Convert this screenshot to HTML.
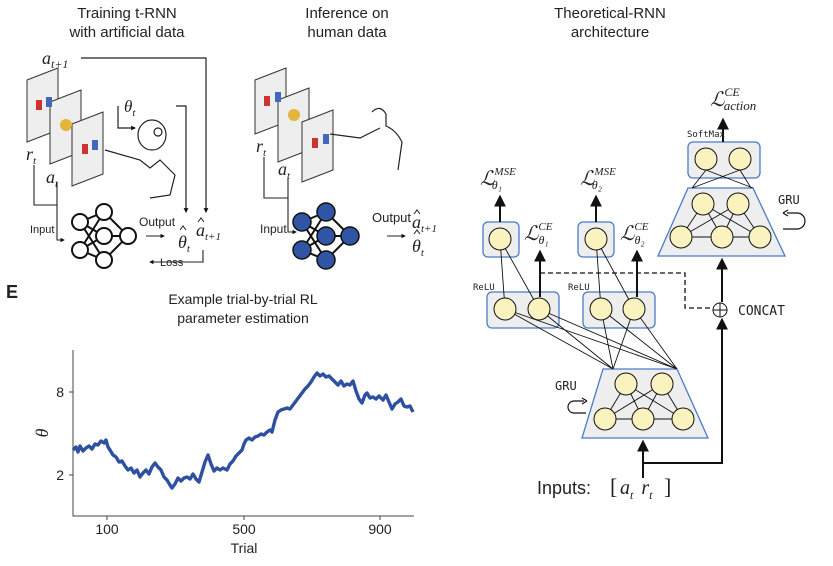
<!DOCTYPE html>
<html><head><meta charset="utf-8"><style>
body{margin:0;background:#fff}
svg{display:block}
text{font-family:"Liberation Sans","DejaVu Sans",sans-serif;fill:#222}
.m{font-family:"Liberation Serif",serif;font-style:italic}
.mono{font-family:"DejaVu Sans Mono","Liberation Mono",monospace}
</style></head><body>
<svg width="833" height="566" viewBox="0 0 833 566">
<defs>
<marker id="ah" viewBox="0 0 10 10" refX="8" refY="5" markerWidth="6" markerHeight="6" orient="auto"><path d="M0,0L10,5L0,10z" fill="#111"/></marker>
<marker id="as" viewBox="0 0 10 10" refX="8" refY="5" markerWidth="4" markerHeight="4" orient="auto"><path d="M0,0L10,5L0,10z" fill="#111"/></marker>
</defs>
<text x="127" y="18" font-size="15" text-anchor="middle">Training t-RNN</text>
<text x="127" y="37" font-size="15" text-anchor="middle">with artificial data</text>
<text x="347" y="18" font-size="15" text-anchor="middle">Inference on</text>
<text x="347" y="37" font-size="15" text-anchor="middle">human data</text>
<text x="610" y="18" font-size="15" text-anchor="middle">Theoretical-RNN</text>
<text x="610" y="37" font-size="15" text-anchor="middle">architecture</text>

<g stroke="#333" stroke-width="1" fill="#eee">
<polygon points="27,80 58,68 58,130 27,142"/>
<polygon points="50,102 81,90 81,152 50,164"/>
<polygon points="72,124 103,112 103,174 72,186"/>
<polygon points="255,80 286,68 286,122 255,134"/>
<polygon points="278,100 309,88 309,150 278,162"/>
<polygon points="302,122 333,110 333,170 302,182"/>
</g>
<g stroke="none">
<rect x="36" y="100" width="6" height="10" fill="#c33"/><rect x="46" y="97" width="6" height="10" fill="#46b"/>
<rect x="82" y="144" width="6" height="10" fill="#c33"/><rect x="92" y="140" width="6" height="10" fill="#46b"/>
<circle cx="66" cy="125" r="6" fill="#e3b53a"/>
<rect x="264" y="96" width="6" height="10" fill="#c33"/><rect x="275" y="92" width="6" height="10" fill="#46b"/>
<rect x="312" y="138" width="6" height="10" fill="#c33"/><rect x="323" y="134" width="6" height="10" fill="#46b"/>
<circle cx="294" cy="115" r="6" fill="#e3b53a"/>
</g>
<g fill="none" stroke="#222" stroke-width="1.2">
<ellipse cx="152" cy="135" rx="14" ry="15"/><circle cx="158" cy="132" r="4"/>
<path d="M105,150 L140,160 L150,168 L160,160 L175,175 L170,195 L150,198"/>
<path d="M118,106 L118,128 L135,128" marker-end="url(#as)"/>
<path d="M176,106 L186,106 L186,212" marker-end="url(#as)"/>
<path d="M81,58 L206,58 L206,212" marker-end="url(#as)"/>
<path d="M372,112 q8,-8 14,2 l0,12 q10,4 16,16 l-4,28 M380,128 l-20,10 l-30,-4"/>
</g>
<text x="42" y="64" font-size="18" class="m">a<tspan font-size="12" dy="4">t+1</tspan></text>
<text x="124" y="112" font-size="17" class="m">θ<tspan font-size="11" dy="4">t</tspan></text>
<text x="26" y="160" font-size="18" class="m">r<tspan font-size="11" dy="4">t</tspan></text>
<text x="46" y="183" font-size="18" class="m">a<tspan font-size="11" dy="4">t</tspan></text>
<text x="256" y="152" font-size="18" class="m">r<tspan font-size="11" dy="4">t</tspan></text>
<text x="278" y="175" font-size="18" class="m">a<tspan font-size="11" dy="4">t</tspan></text>
<g fill="none" stroke="#222" stroke-width="1.1">
<path d="M34,165 L34,205 L57,205 L57,183"/><path d="M57,205 L57,240 L64,240" marker-end="url(#as)"/>
<path d="M264,157 L264,198 L288,198 L288,178"/><path d="M288,198 L288,232 L296,232" marker-end="url(#as)"/>
<path d="M203,250 L203,262 L150,262" marker-end="url(#as)"/>
<path d="M146,236 L164,236" marker-end="url(#as)"/>
<path d="M387,236 L405,236" marker-end="url(#as)"/>
</g>
<text x="30" y="233" font-size="11">Input</text>
<text x="139" y="226" font-size="12">Output</text>
<text x="160" y="266" font-size="11">Loss</text>
<text x="260" y="233" font-size="12">Input</text>
<text x="372" y="222" font-size="13">Output</text>
<text x="178" y="248" font-size="18" class="m">θ<tspan font-size="11" dy="4">t</tspan></text>
<text x="196" y="236" font-size="18" class="m">a<tspan font-size="11" dy="4">t+1</tspan></text>
<text x="412" y="228" font-size="18" class="m">a<tspan font-size="11" dy="4">t+1</tspan></text>
<text x="412" y="252" font-size="18" class="m">θ<tspan font-size="11" dy="4">t</tspan></text>
<g fill="none" stroke="#222" stroke-width="1">
<path d="M180,230l3,-4l3,4M198,222l3,-4l3,4M414,214l3,-4l3,4M414,234l3,-4l3,4"/>
</g>
<g stroke="#111" stroke-width="2">
<path d="M80,222L104,212M80,222L104,236M80,222L104,260M80,250L104,212M80,250L104,236M80,250L104,260M104,212L128,236M104,236L128,236M104,260L128,236"/>
<path d="M302,222L326,212M302,222L326,236M302,222L326,260M302,250L326,212M302,250L326,236M302,250L326,260M326,212L350,236M326,236L350,236M326,260L350,236"/>
</g>
<g stroke="#111" stroke-width="2" fill="#fff">
<circle cx="80" cy="222" r="8"/><circle cx="80" cy="250" r="8"/><circle cx="104" cy="212" r="8"/><circle cx="104" cy="236" r="8"/><circle cx="104" cy="260" r="8"/><circle cx="128" cy="236" r="8"/>
</g>
<g stroke="#111" stroke-width="1.5" fill="#2f55a4">
<circle cx="302" cy="222" r="9"/><circle cx="302" cy="250" r="9"/><circle cx="326" cy="212" r="9"/><circle cx="326" cy="236" r="9"/><circle cx="326" cy="260" r="9"/><circle cx="350" cy="236" r="9"/>
</g>

<text x="6" y="298" font-size="18" font-weight="bold">E</text>
<text x="243" y="304" font-size="14" text-anchor="middle">Example trial-by-trial RL</text>
<text x="243" y="323" font-size="14" text-anchor="middle">parameter estimation</text>
<g stroke="#444" stroke-width="1" fill="none">
<path d="M73,350 L73,516 L414,516"/>
<path d="M107,516v4M244,516v4M380,516v4M73,392h-4M73,475h-4"/>
</g>
<text x="107" y="534" font-size="14" text-anchor="middle">100</text>
<text x="244" y="534" font-size="14" text-anchor="middle">500</text>
<text x="380" y="534" font-size="14" text-anchor="middle">900</text>
<text x="244" y="553" font-size="14" text-anchor="middle">Trial</text>
<text x="64" y="397" font-size="14" text-anchor="end">8</text>
<text x="64" y="480" font-size="14" text-anchor="end">2</text>
<text x="48" y="433" font-size="18" class="m" transform="rotate(-90 48 433)" text-anchor="middle">θ</text>
<polyline fill="none" stroke="#2d50a0" stroke-width="3.4" stroke-linejoin="round" points="73,450 76,447 78,452 80,446 83,451 86,448 89,446 92,449 95,444 98,445 101,441 104,443 106,440 108,447 110,450 113,455 116,457 119,462 122,461 125,466 128,470 131,468 134,473 137,470 140,477 143,473 146,470 149,474 152,467 155,463 158,467 161,470 164,477 167,480 170,485 172,488 175,484 178,478 181,481 184,478 187,477 190,479 193,474 196,479 199,482 202,472 205,462 208,455 211,464 214,471 217,468 220,470 223,468 227,470 230,464 233,461 236,456 239,453 242,450 244,444 246,440 249,438 252,440 255,437 258,436 261,434 264,435 267,432 270,430 272,432 275,420 278,412 281,410 284,409 287,408 290,409 293,405 296,401 299,397 302,393 305,389 308,386 311,382 314,377 317,373 320,376 323,374 326,377 329,376 332,379 335,382 338,385 341,381 344,386 347,384 350,385 353,381 356,391 359,399 362,403 365,395 367,393 370,398 373,397 376,399 379,396 383,400 386,395 389,402 392,409 395,404 398,402 401,399 404,406 407,407 410,406 413,412"/>

<g fill="#eee" stroke="#4a7bc8" stroke-width="1.3">
<rect x="688" y="142" width="72" height="36" rx="5"/>
<polygon points="688,188 753,188 785,256 658,256"/>
<rect x="483" y="222" width="36" height="35" rx="5"/>
<rect x="578" y="222" width="36" height="35" rx="5"/>
<rect x="487" y="292" width="72" height="36" rx="5"/>
<rect x="583" y="292" width="72" height="36" rx="5"/>
<polygon points="603,369 677,369 708,438 582,438"/>
</g>
<g stroke="#111" stroke-width="0.9" fill="none">
<path d="M706,170L692,188M706,170L753,188M740,170L692,188M740,170L751,188"/>
<path d="M703,204L681,237M703,204L722,237M703,204L760,237M738,204L681,237M738,204L722,237M738,204L760,237M681,237L760,237"/>
<path d="M500,239L505,309M500,239L539,309M596,239L601,309M596,239L634,309"/>
<path d="M505,309L613,369M505,309L677,369M539,309L613,369M539,309L677,369M601,309L613,369M601,309L677,369M634,309L613,369M634,309L677,369"/>
<path d="M626,384L605,419M626,384L643,419M626,384L683,419M662,384L605,419M662,384L643,419M662,384L683,419M605,419L683,419"/>
</g>
<g fill="#fbf3bf" stroke="#111" stroke-width="1">
<circle cx="706" cy="159" r="11"/><circle cx="740" cy="159" r="11"/>
<circle cx="703" cy="204" r="11"/><circle cx="738" cy="204" r="11"/>
<circle cx="681" cy="237" r="11"/><circle cx="722" cy="237" r="11"/><circle cx="760" cy="237" r="11"/>
<circle cx="500" cy="239" r="11"/><circle cx="596" cy="239" r="11"/>
<circle cx="505" cy="309" r="11"/><circle cx="539" cy="309" r="11"/>
<circle cx="601" cy="309" r="11"/><circle cx="634" cy="309" r="11"/>
<circle cx="626" cy="384" r="11"/><circle cx="662" cy="384" r="11"/>
<circle cx="605" cy="419" r="11"/><circle cx="643" cy="419" r="11"/><circle cx="683" cy="419" r="11"/>
</g>
<g stroke="#111" stroke-width="2" fill="none">
<path d="M723,142V120" marker-end="url(#ah)"/>
<path d="M500,222V197" marker-end="url(#ah)"/>
<path d="M596,222V197" marker-end="url(#ah)"/>
<path d="M540,297V252" marker-end="url(#ah)"/>
<path d="M637,297V252" marker-end="url(#ah)"/>
<path d="M643,478V442" marker-end="url(#ah)"/>
<path d="M643,463H722V320" marker-end="url(#ah)"/>
<path d="M722,302V260" marker-end="url(#ah)"/>
</g>
<path d="M540,273H685V308H712" stroke="#111" stroke-width="1.3" stroke-dasharray="5,3" fill="none"/>
<g stroke="#111" stroke-width="1" fill="#fff"><circle cx="720" cy="310" r="7"/><path d="M713,310h14M720,303v14"/></g>
<text x="738" y="315" font-size="13" class="mono">CONCAT</text>
<text x="687" y="137" font-size="9" class="mono">SoftMax</text>
<text x="473" y="290" font-size="9" class="mono">ReLU</text>
<text x="568" y="290" font-size="9" class="mono">ReLU</text>
<text x="778" y="204" font-size="12" class="mono">GRU</text>
<text x="555" y="390" font-size="12" class="mono">GRU</text>
<g stroke="#111" stroke-width="1.2" fill="none">
<path d="M787,213 h10 a8,8 0 0 1 0,16 h-14"/><path d="M783,213l5,-3M783,213l5,3"/>
<path d="M584,401 h-10 a6,6 0 0 0 0,12 h12"/><path d="M587,401l-5,-3M587,401l-5,3"/>
</g>
<text x="710" y="106" font-size="20" class="m">ℒ<tspan font-size="12" dy="-10">CE</tspan><tspan font-size="13" dy="14" dx="-16">action</tspan></text>
<text x="480" y="185" font-size="20" class="m">ℒ<tspan font-size="11" dy="-10">MSE</tspan><tspan font-size="12" dy="14" dx="-24">θ₁</tspan></text>
<text x="580" y="185" font-size="20" class="m">ℒ<tspan font-size="11" dy="-10">MSE</tspan><tspan font-size="12" dy="14" dx="-24">θ₂</tspan></text>
<text x="524" y="240" font-size="20" class="m">ℒ<tspan font-size="11" dy="-10">CE</tspan><tspan font-size="12" dy="14" dx="-14">θ₁</tspan></text>
<text x="620" y="240" font-size="20" class="m">ℒ<tspan font-size="11" dy="-10">CE</tspan><tspan font-size="12" dy="14" dx="-14">θ₂</tspan></text>
<text x="537" y="494" font-size="18">Inputs:</text>
<text x="610" y="494" font-size="22" class="m" style="font-style:normal">[</text>
<text x="620" y="494" font-size="20" class="m">a<tspan font-size="12" dy="5">t</tspan><tspan dy="-5" dx="8">r</tspan><tspan font-size="12" dy="5">t</tspan></text>
<text x="664" y="494" font-size="22" class="m" style="font-style:normal">]</text>
</svg>
</body></html>
